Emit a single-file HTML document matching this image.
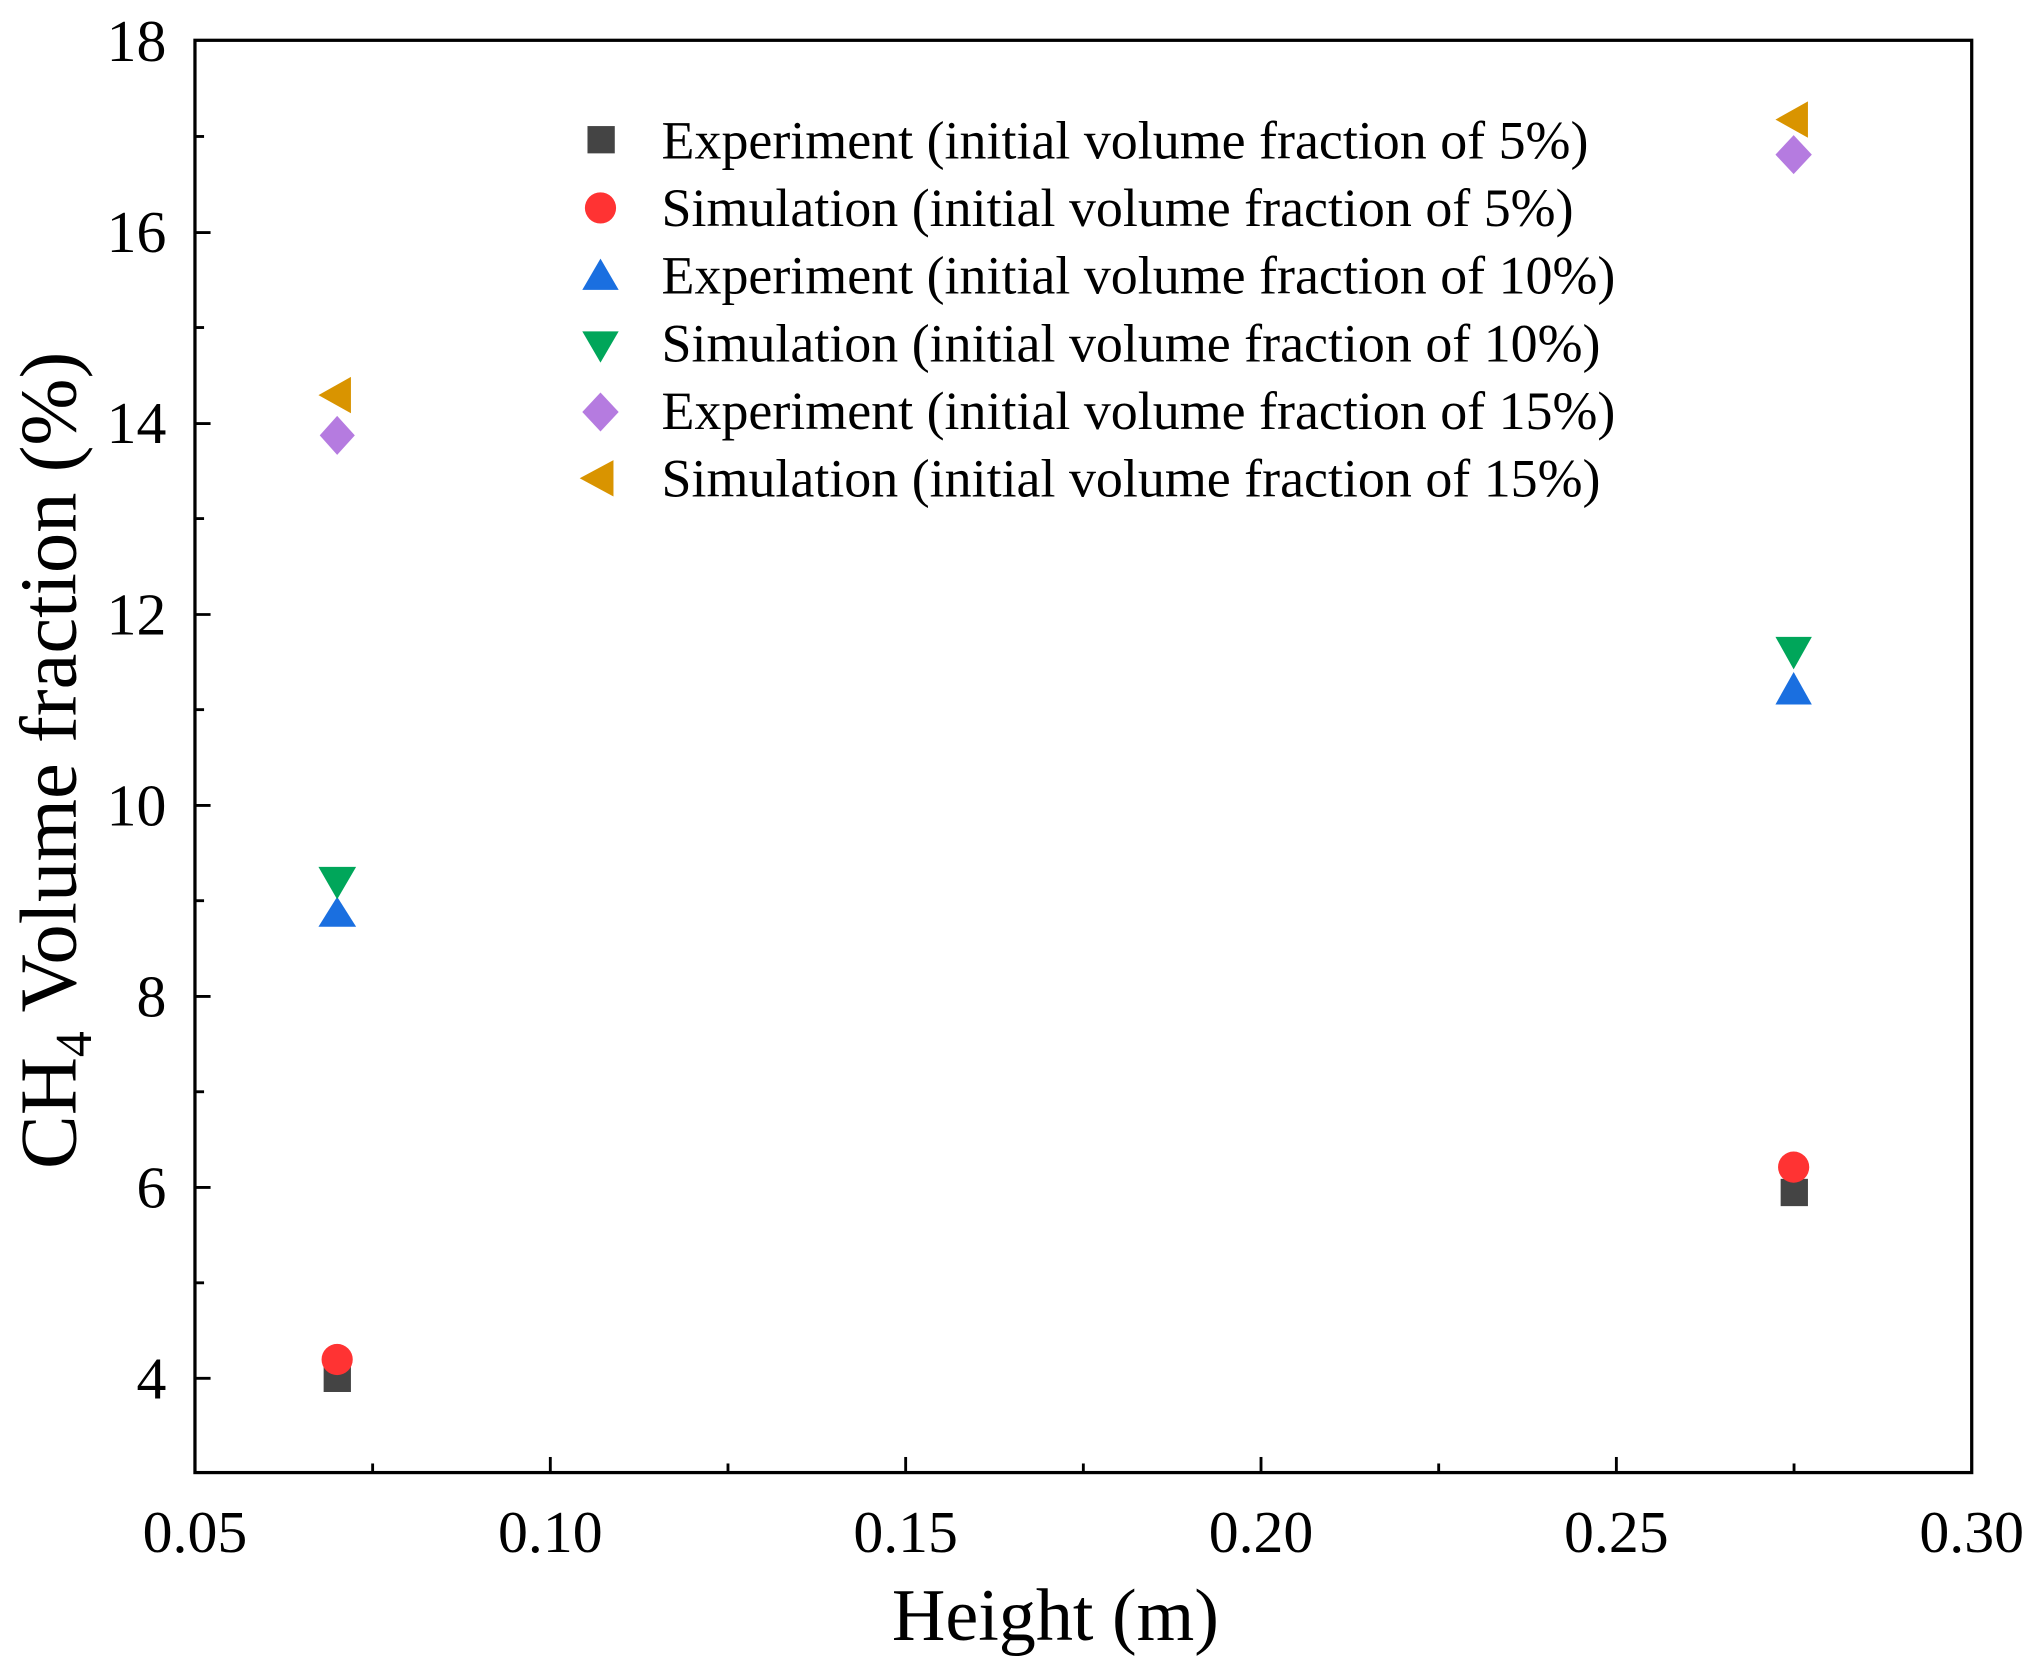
<!DOCTYPE html>
<html><head><meta charset="utf-8"><style>html,body{margin:0;padding:0;background:#fff}svg{display:block}</style></head><body>
<svg width="2038" height="1670" viewBox="0 0 1568 1284.9" preserveAspectRatio="none" xmlns="http://www.w3.org/2000/svg" font-family="Liberation Serif, serif">
<rect x="150" y="31" width="1367" height="1102" fill="none" stroke="#000" stroke-width="2.5"/>
<g stroke="#000" stroke-width="2.2">
<line x1="150" y1="1060.5" x2="162" y2="1060.5"/><line x1="150" y1="913.6" x2="162" y2="913.6"/>
<line x1="150" y1="766.7" x2="162" y2="766.7"/><line x1="150" y1="619.7" x2="162" y2="619.7"/>
<line x1="150" y1="472.8" x2="162" y2="472.8"/><line x1="150" y1="325.9" x2="162" y2="325.9"/>
<line x1="150" y1="178.9" x2="162" y2="178.9"/>
<line x1="150" y1="987" x2="157" y2="987"/><line x1="150" y1="840" x2="157" y2="840"/>
<line x1="150" y1="693" x2="157" y2="693"/><line x1="150" y1="546" x2="157" y2="546"/>
<line x1="150" y1="399" x2="157" y2="399"/><line x1="150" y1="252" x2="157" y2="252"/>
<line x1="150" y1="105" x2="157" y2="105"/>
<line x1="423.4" y1="1133" x2="423.4" y2="1121"/><line x1="696.8" y1="1133" x2="696.8" y2="1121"/>
<line x1="970.2" y1="1133" x2="970.2" y2="1121"/><line x1="1243.6" y1="1133" x2="1243.6" y2="1121"/>
<line x1="286.7" y1="1133" x2="286.7" y2="1126"/><line x1="560.1" y1="1133" x2="560.1" y2="1126"/>
<line x1="833.5" y1="1133" x2="833.5" y2="1126"/><line x1="1106.9" y1="1133" x2="1106.9" y2="1126"/>
<line x1="1380.3" y1="1133" x2="1380.3" y2="1126"/>
</g>
<g font-size="46" text-anchor="end" fill="#000">
<text x="128" y="1076">4</text><text x="128" y="929">6</text><text x="128" y="782">8</text>
<text x="128" y="635">10</text><text x="128" y="488">12</text><text x="128" y="341">14</text>
<text x="128" y="194">16</text><text x="128" y="47">18</text>
</g>
<g font-size="46" text-anchor="middle" fill="#000">
<text x="150" y="1194">0.05</text><text x="423.4" y="1194">0.10</text><text x="696.8" y="1194">0.15</text>
<text x="970.2" y="1194">0.20</text><text x="1243.6" y="1194">0.25</text><text x="1517" y="1194">0.30</text>
</g>
<text x="812" y="1262" font-size="57" text-anchor="middle">Height (m)</text>
<text transform="translate(58,585) rotate(-90)" font-size="62" text-anchor="middle">CH<tspan font-size="40" dy="12">4</tspan><tspan dy="-12"> Volume fraction (%)</tspan></text>
<g>
<rect x="249" y="1050" width="21" height="21" fill="#444"/><rect x="1370" y="907" width="21" height="21" fill="#444"/>
<circle cx="259.4" cy="1046" r="12" fill="#f33"/><circle cx="1380" cy="898" r="12" fill="#f33"/>
<polygon points="259.4,690 245,713 274,713" fill="#1a6fe0"/><polygon points="1380,517 1366,542 1394,542" fill="#1a6fe0"/>
<polygon points="245,667 274,667 259.4,692" fill="#00a65a"/><polygon points="1366,490 1394,490 1380,515" fill="#00a65a"/>
<polygon points="259.4,320 273,335 259.4,350 246,335" fill="#b57be0"/><polygon points="1380,104 1394,119 1380,134 1366,119" fill="#b57be0"/>
<polygon points="245,304 270,290 270,318" fill="#d99400"/><polygon points="1366,92 1391,78 1391,106" fill="#d99400"/>
</g>
<rect x="452" y="97" width="21" height="21" fill="#444"/>
<circle cx="462" cy="160" r="12" fill="#f33"/>
<polygon points="462,199 448,223 476,223" fill="#1a6fe0"/>
<polygon points="448,255 476,255 462,279" fill="#00a65a"/>
<polygon points="462,302 476,317 462,332 448,317" fill="#b57be0"/>
<polygon points="446,368 472,354 472,382" fill="#d99400"/>
<g font-size="41.5" fill="#000">
<text x="509" y="122">Experiment (initial volume fraction of 5%)</text>
<text x="509" y="174">Simulation (initial volume fraction of 5%)</text>
<text x="509" y="226">Experiment (initial volume fraction of 10%)</text>
<text x="509" y="278">Simulation (initial volume fraction of 10%)</text>
<text x="509" y="330">Experiment (initial volume fraction of 15%)</text>
<text x="509" y="382">Simulation (initial volume fraction of 15%)</text>
</g>
</svg>
</body></html>
